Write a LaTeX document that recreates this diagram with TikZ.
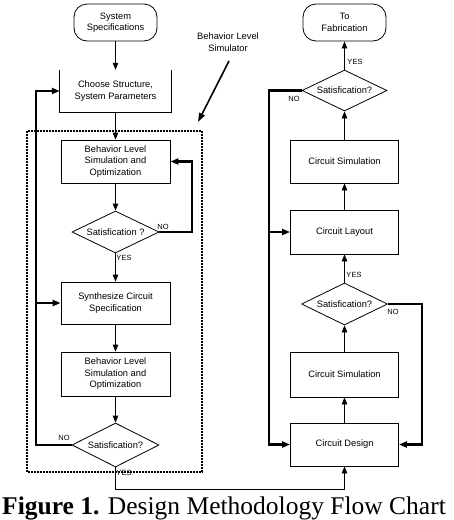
\documentclass[tikz,border=0pt]{standalone}
\usepackage{fontspec}
\setmainfont{Liberation Sans}
\newfontfamily\capfont{Liberation Serif}
\usetikzlibrary{arrows.meta,shapes.geometric}
\begin{document}
\begin{tikzpicture}[x=1pt,y=-1pt,
  every node/.style={font=\fontsize{9.3}{11.5}\selectfont, align=center, inner sep=0pt},
  box/.style={draw, line width=0.8pt, minimum width=109pt, minimum height=43pt},
  term/.style={draw, line width=0.8pt, rounded corners=13pt, minimum width=83pt, minimum height=37pt},
  dec/.style={draw, diamond, line width=0.8pt, minimum width=87pt, minimum height=42pt, aspect=2},
  flow/.style={line width=0.8pt, -{Triangle[length=7pt,width=5.5pt]}},
  fb/.style={line width=2.2pt, -{Triangle[length=8pt,width=6pt]}},
  lab/.style={font=\fontsize{7.5}{8}\selectfont},
]
\useasboundingbox (0,0) rectangle (454,520);

% left column
\node[term] (spec) at (115.5,22.5) {System\\Specifications};
\node[minimum width=111pt, minimum height=42pt] (choose) at (115.5,91) {Choose Structure,\\System Parameters};
\draw[line width=0.8pt] (choose.north west) -- (choose.south west) -- (choose.south east) -- (choose.north east);
\node[box] (bls1) at (115.5,161.5) {Behavior Level\\Simulation and\\Optimization};
\node[dec] (d1) at (115.5,232) {Satisfication ?};
\node[box, minimum height=42pt] (synth) at (115.5,303) {Synthesize Circuit\\Specification};
\node[box, minimum height=44pt] (bls2) at (115.5,374) {Behavior Level\\Simulation and\\Optimization};
\node[dec, minimum height=44pt] (d2) at (115.5,445) {Satisfication?};

% right column
\node[term] (fab) at (344.5,22.5) {To\\Fabrication};
\node[dec, minimum width=85pt, minimum height=41pt] (dr1) at (344.5,90.5) {Satisfication?};
\node[box, minimum width=108pt] (csim1) at (344.5,161.5) {Circuit Simulation};
\node[box, minimum width=108pt, minimum height=44pt] (layout) at (344.5,232) {Circuit Layout};
\node[dec, minimum width=86pt] (dr2) at (344.5,304) {Satisfication?};
\node[box, minimum width=108pt, minimum height=45pt] (csim2) at (344.5,374.5) {Circuit Simulation};
\node[box, minimum width=108pt] (design) at (344.5,444.5) {Circuit Design};

% dotted frame
\draw[line width=1.8pt, dash pattern=on 1.6pt off 1.4pt] (27,131) rectangle (202,472);

% simulator label
\node (simlab) at (228,42) {Behavior Level\\Simulator};
\coordinate (bs) at (229,61);
\coordinate (be) at (198,122);
\draw[line width=1.6pt, -{Triangle[length=9pt,width=6pt]}] (bs) -- (be);

% main flow left
\draw[flow] (spec) -- (choose);
\draw[flow] (choose) -- (bls1);
\draw[flow] (bls1) -- (d1);
\draw[flow] (d1) -- (synth);
\draw[flow] (synth) -- (bls2);
\draw[flow] (bls2) -- (d2);

% main flow right
\draw[flow] (design) -- (csim2);
\draw[flow] (csim2) -- (dr2);
\draw[flow] (dr2) -- (layout);
\draw[flow] (layout) -- (csim1);
\draw[flow] (csim1) -- (dr1);
\draw[flow] (dr1) -- (fab);

% bottom link
\coordinate (by) at (0,489);
\draw[flow] (d2.south) -- (d2.south |- by) -- (design.south |- by) -- (design.south);

% feedback loops
\coordinate (nr) at (192,0);
\coordinate (nl) at (36,0);
\coordinate (rl) at (269,0);
\coordinate (rr) at (422,0);
\draw[fb] (d1.east) -- (d1.east -| nr) |- (bls1.east);
\draw[fb] (d2.west) -- (d2.west -| nl) |- (choose.west);
\draw[fb] (synth.west -| nl) -- (synth.west);
\draw[fb] (dr1.west) -- (dr1.west -| rl) |- (design.west);
\draw[fb] (layout.west -| rl) -- (layout.west);
\draw[fb] (dr2.east) -- (dr2.east -| rr) |- (design.east);

% labels
\node[lab] at (163,227) {NO};
\node[lab] at (124,258) {YES};
\node[lab] at (64,438) {NO};
\node[lab] at (124,473) {YES};
\node[lab] at (355,62) {YES};
\node[lab] at (294,99) {NO};
\node[lab] at (354,275) {YES};
\node[lab] at (393,312) {NO};

% caption
\node[anchor=base west, font=\capfont\fontsize{25.5}{26}\selectfont] (cap) at (2,514) {\textbf{Figure 1.} Design Methodology Flow Chart};
\end{tikzpicture}
\end{document}
